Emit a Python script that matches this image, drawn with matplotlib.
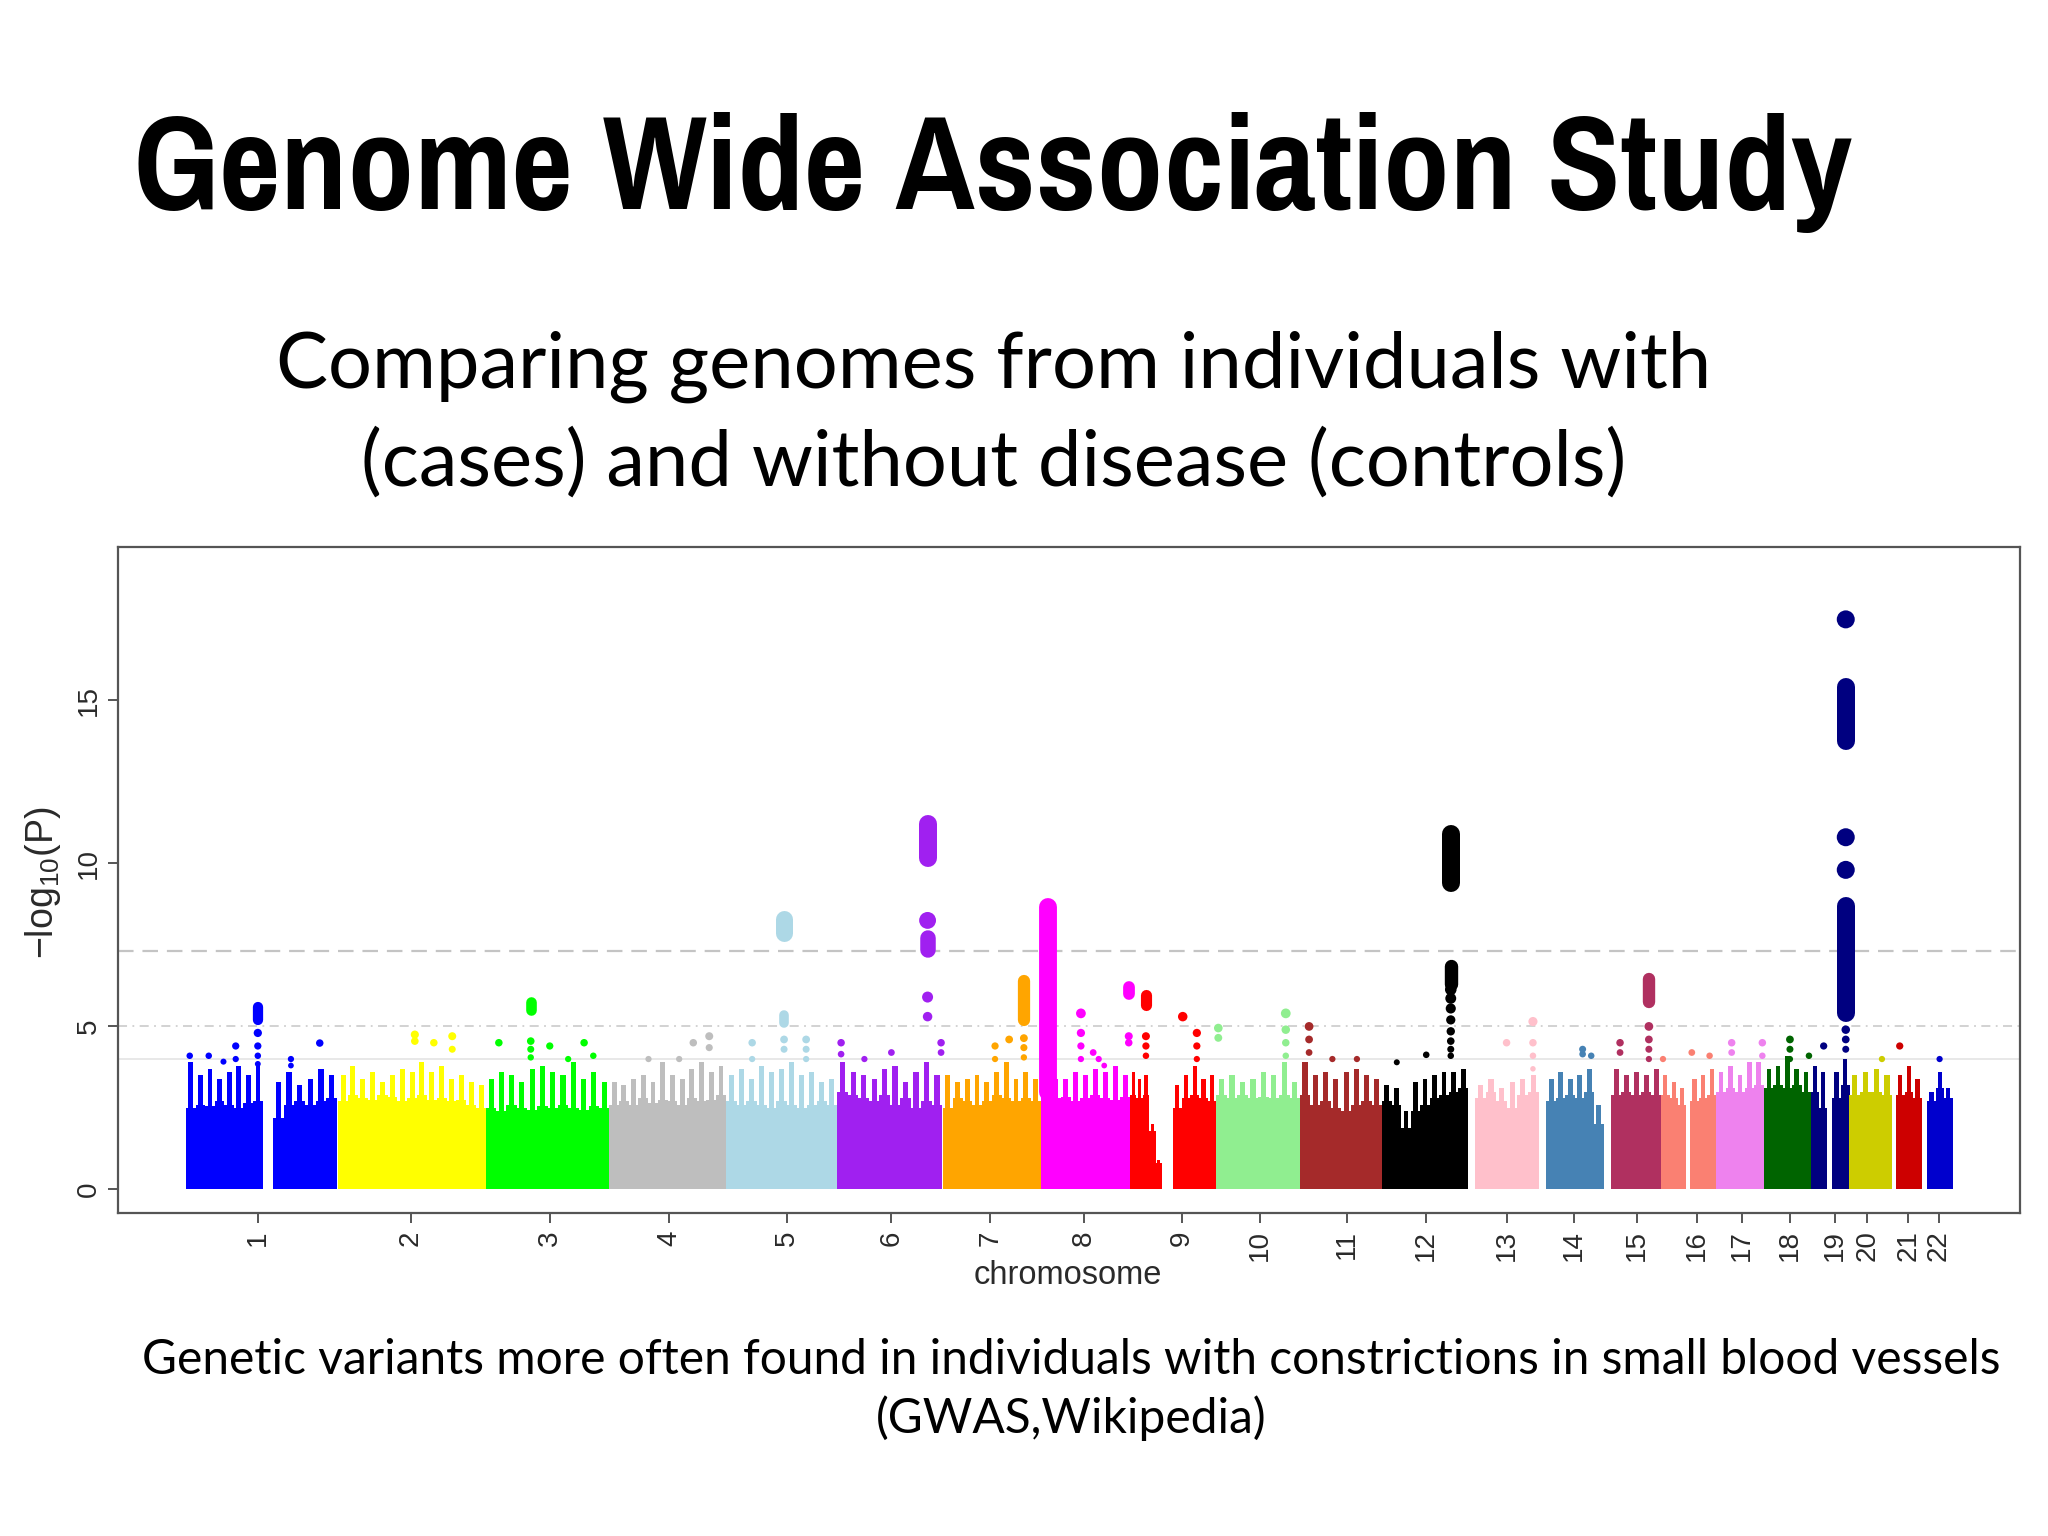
import numpy as np
import matplotlib
matplotlib.use('Agg')
import matplotlib.pyplot as plt
from matplotlib import font_manager as fm

plt.rcParams['mathtext.fontset'] = 'custom'
plt.rcParams['mathtext.rm'] = 'Liberation Sans'
plt.rcParams['mathtext.it'] = 'Liberation Sans:italic'

# chromosome colours (R colour names used by the original plot)
chrom_colors = ['#0000FF', '#FFFF00', '#00FF00', '#BEBEBE', '#ADD8E6', '#A020F0',
                '#FFA500', '#FF00FF', '#FF0000', '#90EE90', '#A52A2A', '#000000',
                '#FFC0CB', '#4682B4', '#B03060', '#FA8072', '#EE82EE', '#006400',
                '#000080', '#CDCD00', '#CD0000', '#0000CD']
chrom_labels = [str(i) for i in range(1, 23)]
# tick positions, cumulative Mb
tick_pos = [117, 366, 594, 788, 980, 1150, 1311, 1464, 1624, 1751, 1893,
            2021, 2154, 2263, 2366, 2464, 2537, 2615, 2689, 2741, 2808, 2858]

# covered segments of each chromosome (cumulative Mb)
seg_chrom = [1, 1, 2, 3, 4, 5, 6, 7, 8, 9, 9, 10, 11, 12, 13, 14, 15, 16, 16,
             17, 18, 19, 19, 20, 21, 22]
seg_start = [0, 142, 248, 489, 690, 881, 1062, 1234, 1394, 1539, 1609, 1680,
             1816, 1950, 2102, 2218, 2324, 2405, 2452, 2495, 2573, 2649, 2684,
             2712, 2788, 2839]
seg_end = [125, 246, 489, 690, 880, 1061, 1233, 1393, 1539, 1591, 1680, 1816,
           1950, 2090, 2205, 2311, 2405, 2446, 2495, 2572, 2649, 2676, 2712,
           2782, 2830, 2880]
# dense body of the SNP cloud (-log10 P) along each segment
seg_tops = [
    [2.5, 2.6, 2.55, 2.7, 2.6, 2.5, 2.65, 2.7],
    [2.2, 2.6, 2.7, 2.6, 2.7, 2.8],
    [2.7, 2.9, 2.8, 2.75, 2.9, 2.85, 2.7, 2.8, 2.9, 2.75, 2.8, 2.7, 2.75, 2.6, 2.5],
    [2.5, 2.4, 2.6, 2.5, 2.45, 2.55, 2.5, 2.6, 2.5, 2.45, 2.55, 2.5],
    [2.6, 2.7, 2.6, 2.8, 2.65, 2.75, 2.7, 2.6, 2.8, 2.7, 2.75, 2.9],
    [2.7, 2.6, 2.7, 2.6, 2.5, 2.7, 2.6, 2.5, 2.6, 2.7, 2.6],
    [3.0, 2.9, 2.8, 2.7, 2.9, 2.6, 2.8, 2.5, 2.7, 2.6],
    [2.5, 2.8, 2.7, 2.6, 2.7, 2.9, 2.8, 2.7, 2.8, 2.7],
    [2.9, 2.8, 2.85, 2.7, 2.8, 2.9, 2.8, 2.75, 2.85],
    [2.9, 2.8, 2.9, 1.8, 0.8],
    [2.5, 2.8, 2.9, 2.8, 2.7],
    [2.9, 2.8, 2.9, 2.8, 2.85, 2.8, 2.9, 2.8],
    [2.9, 2.6, 2.7, 2.5, 2.4, 2.6, 2.7, 2.6],
    [2.7, 2.6, 1.9, 2.4, 2.6, 2.8, 2.9, 3.0, 3.1],
    [2.8, 3.0, 2.7, 2.5, 2.9, 3.0],
    [2.7, 2.8, 2.9, 2.8, 3.0, 2.0],
    [2.9, 3.0, 2.9, 3.0, 2.9],
    [2.9, 2.8, 2.6],
    [2.7, 2.8, 2.9],
    [3.0, 3.1, 3.0, 3.1, 3.2],
    [3.1, 3.2, 3.1, 3.2, 3.0],
    [3.0, 2.5],
    [2.8, 3.2],
    [2.9, 3.0, 3.0, 2.9],
    [2.9, 3.0, 2.8],
    [2.7, 3.1, 2.8],
]
# sparse upper fringe above the dense body
seg_spikes = [
    [3.9, 3.5, 3.7, 3.4, 3.6, 3.8, 3.5, 3.9],
    [3.3, 3.6, 3.2, 3.4, 3.7, 3.5],
    [3.5, 3.8, 3.4, 3.6, 3.3, 3.5, 3.7, 3.6, 3.9, 3.6, 3.8, 3.4, 3.5, 3.3, 3.2],
    [3.4, 3.6, 3.5, 3.3, 3.7, 3.8, 3.6, 3.5, 3.9, 3.4, 3.6, 3.3],
    [3.3, 3.2, 3.4, 3.5, 3.3, 3.9, 3.5, 3.4, 3.7, 3.9, 3.6, 3.8],
    [3.5, 3.7, 3.4, 3.8, 3.6, 3.7, 3.9, 3.5, 3.6, 3.3, 3.4],
    [3.9, 3.6, 3.5, 3.4, 3.7, 3.8, 3.3, 3.6, 3.9, 3.5],
    [3.5, 3.3, 3.4, 3.5, 3.3, 3.6, 3.9, 3.4, 3.6, 3.4],
    [3.3, 3.4, 3.4, 3.6, 3.5, 3.7, 3.6, 3.8, 3.5],
    [3.6, 3.4, 3.5, 2.0, 0.9],
    [3.2, 3.5, 3.8, 3.4, 3.5],
    [3.4, 3.5, 3.3, 3.4, 3.6, 3.5, 3.9, 3.3],
    [3.9, 3.5, 3.6, 3.4, 3.6, 3.7, 3.5, 3.4],
    [3.2, 3.1, 2.4, 3.3, 3.4, 3.5, 3.6, 3.6, 3.7],
    [3.2, 3.4, 3.1, 3.3, 3.4, 3.5],
    [3.4, 3.6, 3.4, 3.5, 3.7, 2.6],
    [3.7, 3.5, 3.6, 3.5, 3.7],
    [3.5, 3.3, 3.1],
    [3.4, 3.5, 3.7],
    [3.6, 3.8, 3.5, 3.9, 3.9],
    [3.7, 3.8, 4.1, 3.7, 3.6],
    [3.8, 3.6],
    [3.6, 4.0],
    [3.5, 3.6, 3.7, 3.5],
    [3.5, 3.8, 3.4],
    [3.0, 3.6, 3.1],
]

# runs of overlapping significant SNPs: chromosome, position, lowest, highest
cl_chrom = [1, 3, 5, 5, 6, 6, 7, 8, 8, 9, 12, 12, 15, 19, 19]
cl_pos = [117, 562, 975, 975, 1209, 1209, 1366, 1406, 1537, 1565, 2062, 2062, 2385, 2706, 2706]
cl_lo = [5.2, 5.5, 7.85, 5.1, 10.15, 7.35, 5.2, 3.0, 6.0, 5.65, 9.4, 6.3, 5.75, 13.75, 5.4]
cl_hi = [5.6, 5.75, 8.3, 5.35, 11.2, 7.7, 6.4, 8.65, 6.2, 5.95, 10.9, 6.85, 6.45, 15.4, 8.7]

# single SNPs standing out of the cloud
pt_chrom = [1, 1, 1, 1, 1, 1, 1, 1, 1, 1, 1, 1,
            2, 2, 2, 2, 2,
            3, 3, 3, 3, 3, 3, 3, 3,
            4, 4, 4, 4, 4,
            5, 5, 5, 5, 5, 5, 5,
            6, 6, 6, 6, 6, 6, 6, 6, 6,
            7, 7, 7, 7, 7, 7,
            8, 8, 8, 8, 8, 8, 8, 8, 8,
            9, 9, 9, 9, 9, 9, 9,
            10, 10, 10, 10, 10, 10,
            11, 11, 11, 11, 11,
            12, 12, 12, 12, 12, 12, 12, 12, 12, 12,
            13, 13, 13, 13, 13,
            14, 14, 14,
            15, 15, 15, 15, 15, 15,
            16, 16, 16,
            17, 17, 17, 17,
            18, 18, 18, 18,
            19, 19, 19, 19, 19, 19, 19,
            20, 21, 22]
pt_pos = [117, 117, 117, 117, 6, 37, 61, 81, 81, 171, 171, 218,
          373, 373, 404, 434, 434,
          562, 562, 562, 510, 593, 623, 649, 664,
          827, 853, 853, 804, 754,
          975, 975, 923, 923, 1011, 1011, 1011,
          1209, 1209, 1209, 1068, 1068, 1106, 1150, 1231, 1231,
          1366, 1366, 1366, 1342, 1319, 1319,
          1459, 1459, 1459, 1459, 1479, 1488, 1497, 1537, 1537,
          1565, 1565, 1565, 1625, 1648, 1648, 1648,
          1683, 1683, 1793, 1793, 1793, 1793,
          1831, 1831, 1831, 1869, 1909,
          2062, 2062, 2062, 2062, 2062, 2062, 2062, 2062, 2022, 1974,
          2196, 2196, 2196, 2196, 2153,
          2277, 2277, 2291,
          2385, 2385, 2385, 2385, 2338, 2338,
          2408, 2455, 2484,
          2520, 2520, 2570, 2570,
          2615, 2615, 2615, 2646,
          2670, 2706, 2706, 2706, 2706, 2706, 2706,
          2765, 2794, 2859]
pt_val = [4.8, 4.4, 4.1, 3.85, 4.1, 4.1, 3.92, 4.4, 4.0, 4.0, 3.8, 4.49,
          4.75, 4.55, 4.5, 4.7, 4.3,
          4.55, 4.3, 4.05, 4.5, 4.4, 4.0, 4.5, 4.1,
          4.5, 4.7, 4.35, 4.0, 4.0,
          4.6, 4.3, 4.5, 4.0, 4.6, 4.3, 4.0,
          8.25, 5.9, 5.3, 4.5, 4.15, 4.0, 4.2, 4.5, 4.2,
          4.64, 4.35, 4.05, 4.6, 4.4, 4.0,
          5.4, 4.8, 4.4, 4.0, 4.2, 4.0, 3.8, 4.7, 4.5,
          4.7, 4.4, 4.1, 5.3, 4.8, 4.4, 4.0,
          4.95, 4.65, 5.4, 4.9, 4.5, 4.1,
          5.0, 4.6, 4.2, 4.0, 4.0,
          6.13, 5.86, 5.55, 5.2, 4.85, 4.55, 4.3, 4.1, 4.13, 3.9,
          5.15, 4.5, 4.1, 3.7, 4.5,
          4.3, 4.15, 4.1,
          5.0, 4.6, 4.3, 4.0, 4.5, 4.2,
          4.0, 4.2, 4.1,
          4.5, 4.2, 4.5, 4.1,
          4.6, 4.3, 4.0, 4.1,
          4.4, 17.48, 10.8, 9.8, 4.9, 4.6, 4.3,
          4.0, 4.4, 4.0]

thresholds = [7.3, 5.0, 4.0]


def dot_pt(v):
    # marker diameter grows with significance (pixels -> points at 100 dpi)
    return np.clip(5 + 2.5 * (np.asarray(v) - 3.5), 5.5, 18) * 0.72


def narrow_bold_font():
    # look for an installed narrow / condensed bold face for the slide title
    best = None
    for f in fm.fontManager.ttflist:
        narrow = ('Narrow' in f.name or 'Condensed' in f.name
                  or str(f.stretch) in ('condensed', 'semi-condensed', 'extra-condensed'))
        bold = str(f.weight) in ('bold', '700', '800', '900', 'heavy', 'black')
        if narrow and bold:
            if best is None or 'Narrow' in f.name:
                best = f
    if best is not None:
        return fm.FontProperties(fname=best.fname)
    return fm.FontProperties(family='Liberation Sans', weight='bold')


fig = plt.figure(figsize=(20.48, 15.36), dpi=100)
ax = fig.add_axes([0.0576, 0.2103, 0.9287, 0.4336])

ax.axhline(thresholds[0], color='#c4c4c4', lw=1.6, ls=(0, (7, 4)), zorder=1)
ax.axhline(thresholds[1], color='#cfcfcf', lw=1.3, ls=(0, (5, 3, 1, 3)), zorder=1)
ax.axhline(thresholds[2], color='#e2e2e2', lw=1.1, zorder=1)

for i, c in enumerate(seg_chrom):
    col = chrom_colors[c - 1]
    tops = np.array(seg_tops[i])
    n = len(tops)
    w = (seg_end[i] - seg_start[i]) / n
    centers = seg_start[i] + w * (np.arange(n) + 0.5)
    ax.bar(centers, seg_spikes[i], width=w * 0.5, color=col, lw=0, zorder=2)
    ax.bar(centers, tops, width=w * 1.02, color=col, lw=0, zorder=2)

for c, x, lo, hi in zip(cl_chrom, cl_pos, cl_lo, cl_hi):
    ax.plot([x, x], [lo, hi], color=chrom_colors[c - 1], lw=float(dot_pt(hi)),
            solid_capstyle='round', zorder=3)

pt_cols = [chrom_colors[c - 1] for c in pt_chrom]
ax.scatter(pt_pos, pt_val, s=dot_pt(pt_val) ** 2, c=pt_cols, lw=0, zorder=3)

ax.set_xlim(-111, 2990)
ax.set_ylim(-0.72, 19.7)
ax.set_xticks(tick_pos)
ax.set_xticklabels(chrom_labels, rotation=90)
ax.set_yticks([0, 5, 10, 15])
ax.set_yticklabels(['0', '5', '10', '15'], rotation=90, va='center')
for side in ['left', 'right', 'top', 'bottom']:
    ax.spines[side].set_color('#555555')
    ax.spines[side].set_linewidth(1.6)
ax.tick_params(axis='both', colors='#555555', length=7.5, width=1.4,
               labelsize=20, labelcolor='#2a2a2a')
ax.tick_params(axis='x', pad=5)
ax.tick_params(axis='y', pad=4)
for lab in ax.get_xticklabels() + ax.get_yticklabels():
    lab.set_family('Liberation Sans')

fig.text(0.021, 0.425, r'$-\mathrm{log}_{10}(\mathrm{P})$', rotation=90,
         ha='center', va='center', fontsize=27, color='#2a2a2a')
fig.text(0.5215, 0.1693, 'chromosome', ha='center', va='center',
         fontsize=23.5, color='#2a2a2a', family='Liberation Sans')

title = fig.text(0.485, 0.864, 'Genome Wide Association Study', ha='center',
                 va='baseline', fontsize=96, fontproperties=narrow_bold_font())
title.set_fontsize(96)
fig.text(0.485, 0.7474, 'Comparing genomes from individuals with', ha='center',
         va='baseline', fontsize=56, family='Lato')
fig.text(0.485, 0.6836, '(cases) and without disease (controls)', ha='center',
         va='baseline', fontsize=56, family='Lato')
fig.text(0.523, 0.1055, 'Genetic variants more often found in individuals with '
         'constrictions in small blood vessels', ha='center', va='baseline',
         fontsize=34.5, family='Lato')
fig.text(0.523, 0.0671, '(GWAS,Wikipedia)', ha='center', va='baseline',
         fontsize=34.5, family='Lato')

# fit the title to the width it has on the slide (about 1717 px)
fig.canvas.draw()
w = title.get_window_extent().width
title.set_fontsize(96 * 1717 / w)

fig.savefig('out.png', dpi=100)
